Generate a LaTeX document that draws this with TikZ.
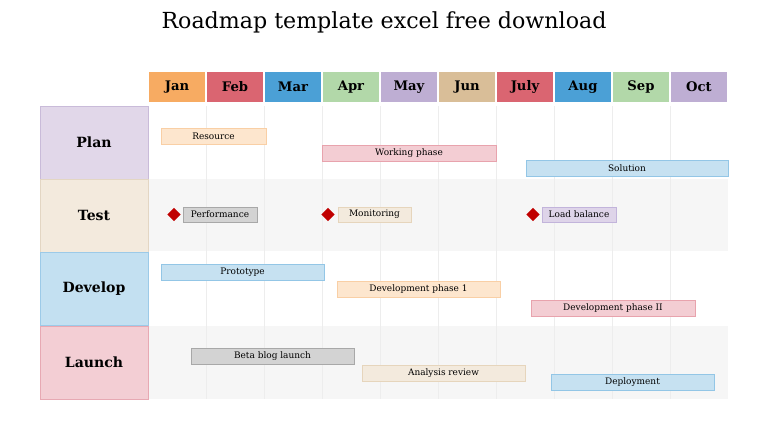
\documentclass[tikz,border=0pt]{standalone}
\usepackage{fontspec}
\setmainfont{DejaVu Serif}
\usetikzlibrary{positioning, calc}
\usetikzlibrary{shapes.geometric}
\definecolor{janC}{HTML}{F7AB62}
\definecolor{febC}{HTML}{DA6571}
\definecolor{marC}{HTML}{4BA0D6}
\definecolor{aprC}{HTML}{B2D8A9}
\definecolor{mayC}{HTML}{BEAED3}
\definecolor{junC}{HTML}{D9BE98}
\definecolor{planC}{HTML}{E1D7E9}
\definecolor{planB}{HTML}{C9BBD9}
\definecolor{testC}{HTML}{F3EADD}
\definecolor{testB}{HTML}{E3D6C3}
\definecolor{devC}{HTML}{C3E0F1}
\definecolor{devB}{HTML}{9CCAE8}
\definecolor{launchC}{HTML}{F3CED4}
\definecolor{launchB}{HTML}{E7A9B3}
\definecolor{peach}{HTML}{FDE6CE}
\definecolor{peachB}{HTML}{F9CFA5}
\definecolor{rose}{HTML}{F3CDD3}
\definecolor{roseB}{HTML}{E8A3AD}
\definecolor{sky}{HTML}{C6E1F1}
\definecolor{skyB}{HTML}{93C6E6}
\definecolor{stone}{HTML}{D3D3D3}
\definecolor{stoneB}{HTML}{A8A8A8}
\definecolor{cream}{HTML}{F3EADD}
\definecolor{creamB}{HTML}{E6D5BC}
\definecolor{lilac}{HTML}{DED4E9}
\definecolor{lilacB}{HTML}{C2B4DB}
\definecolor{band}{HTML}{F6F6F6}
\definecolor{gridC}{HTML}{EDEDED}
\definecolor{gem}{HTML}{C00000}

\begin{document}
\begin{tikzpicture}[x=0.02cm, y=-0.02cm,
	                    month/.style={rectangle,
	                                  minimum width=1.12cm,
	                                  minimum height=0.6cm,
	                                  inner sep=0pt,
	                                  font=\fontsize{7.5}{9}\selectfont\bfseries},
	                    row/.style={rectangle,
	                                draw,
	                                minimum width=2.16cm,
	                                minimum height=1.46cm,
	                                inner sep=0pt,
	                                font=\fontsize{8}{10}\selectfont\bfseries},
	                    bar/.style={rectangle,
	                                draw,
	                                line width=0.5pt,
	                                minimum height=0.32cm,
	                                inner sep=0pt,
	                                font=\fontsize{5.1}{6}\selectfont},
	                    milestone/.style={diamond,
	                                      fill=gem,
	                                      minimum size=0.27cm,
	                                      inner sep=0pt}]
	\useasboundingbox (0,0) rectangle (768,433);
	\node (Title) at (384,22) {\fontsize{12.6}{15}\selectfont Roadmap template excel free download};

	% shaded bands and month grid
	\fill[band] (148,179) rectangle (728,251);
	\fill[band] (148,326) rectangle (728,399);
	\foreach \gx in {206,264,322,380,438,496,554,612,670}
		\draw[gridC, line width=0.4pt] (\gx,106) -- (\gx,399);

	\coordinate (h) at (58,0);
	\coordinate (v) at (0,73.3);
	\node [month, fill=janC] (Jan) at (177,87) {Jan};
	\node [month, fill=febC] (Feb) at ($(Jan)+(h)$) {Feb};
	\node [month, fill=marC] (Mar) at ($(Jan)+2*(h)$) {Mar};
	\node [month, fill=aprC] (Apr) at ($(Jan)+3*(h)$) {Apr};
	\node [month, fill=mayC] (May) at ($(Jan)+4*(h)$) {May};
	\node [month, fill=junC] (Jun) at ($(Jan)+5*(h)$) {Jun};
	\node [month, fill=febC] (July) at ($(Jan)+6*(h)$) {July};
	\node [month, fill=marC] (Aug) at ($(Jan)+7*(h)$) {Aug};
	\node [month, fill=aprC] (Sep) at ($(Jan)+8*(h)$) {Sep};
	\node [month, fill=mayC] (Oct) at ($(Jan)+9*(h)$) {Oct};

	\node [row, fill=planC, draw=planB] (Plan) at (94,142.5) {Plan};
	\node [row, fill=testC, draw=testB] (Test) at ($(Plan)+(v)$) {Test};
	\node [row, fill=devC, draw=devB] (Develop) at ($(Plan)+2*(v)$) {Develop};
	\node [row, fill=launchC, draw=launchB] (Launch) at ($(Plan)+3*(v)$) {Launch};

	% plan
	\node [bar, fill=peach, draw=peachB, minimum width=2.1cm] (Resource) at (213.5,136.5) {Resource};
	\node [bar, fill=rose, draw=roseB, minimum width=3.48cm] (Working) at (409,153) {Working phase};
	\node [bar, fill=sky, draw=skyB, minimum width=4.04cm] (Solution) at (627,168) {Solution};

	% test
	\node [milestone] (MarkA) at (174,214.5) {};
	\node [bar, fill=stone, draw=stoneB, minimum width=1.48cm, minimum height=0.3cm] (Performance) at (220,214.5) {Performance};
	\node [milestone] (MarkB) at (328,214.5) {};
	\node [bar, fill=cream, draw=creamB, minimum width=1.46cm, minimum height=0.3cm] (Monitoring) at (374.5,214.5) {Monitoring};
	\node [milestone] (MarkC) at (533,214.5) {};
	\node [bar, fill=lilac, draw=lilacB, minimum width=1.48cm, minimum height=0.3cm] (LoadBalance) at (579,214.5) {Load balance};

	% develop
	\node [bar, fill=sky, draw=skyB, minimum width=3.26cm] (Prototype) at (242.5,272) {Prototype};
	\node [bar, fill=peach, draw=peachB, minimum width=3.26cm] (DevOne) at (418.5,289) {Development phase 1};
	\node [bar, fill=rose, draw=roseB, minimum width=3.28cm] (DevTwo) at (613,308.5) {Development phase II};

	% launch
	\node [bar, fill=stone, draw=stoneB, minimum width=3.26cm] (Beta) at (272.5,356) {Beta blog launch};
	\node [bar, fill=cream, draw=creamB, minimum width=3.26cm] (Analysis) at (443.5,373) {Analysis review};
	\node [bar, fill=sky, draw=skyB, minimum width=3.26cm] (Deployment) at (632.5,382.5) {Deployment};
\end{tikzpicture}
\end{document}
